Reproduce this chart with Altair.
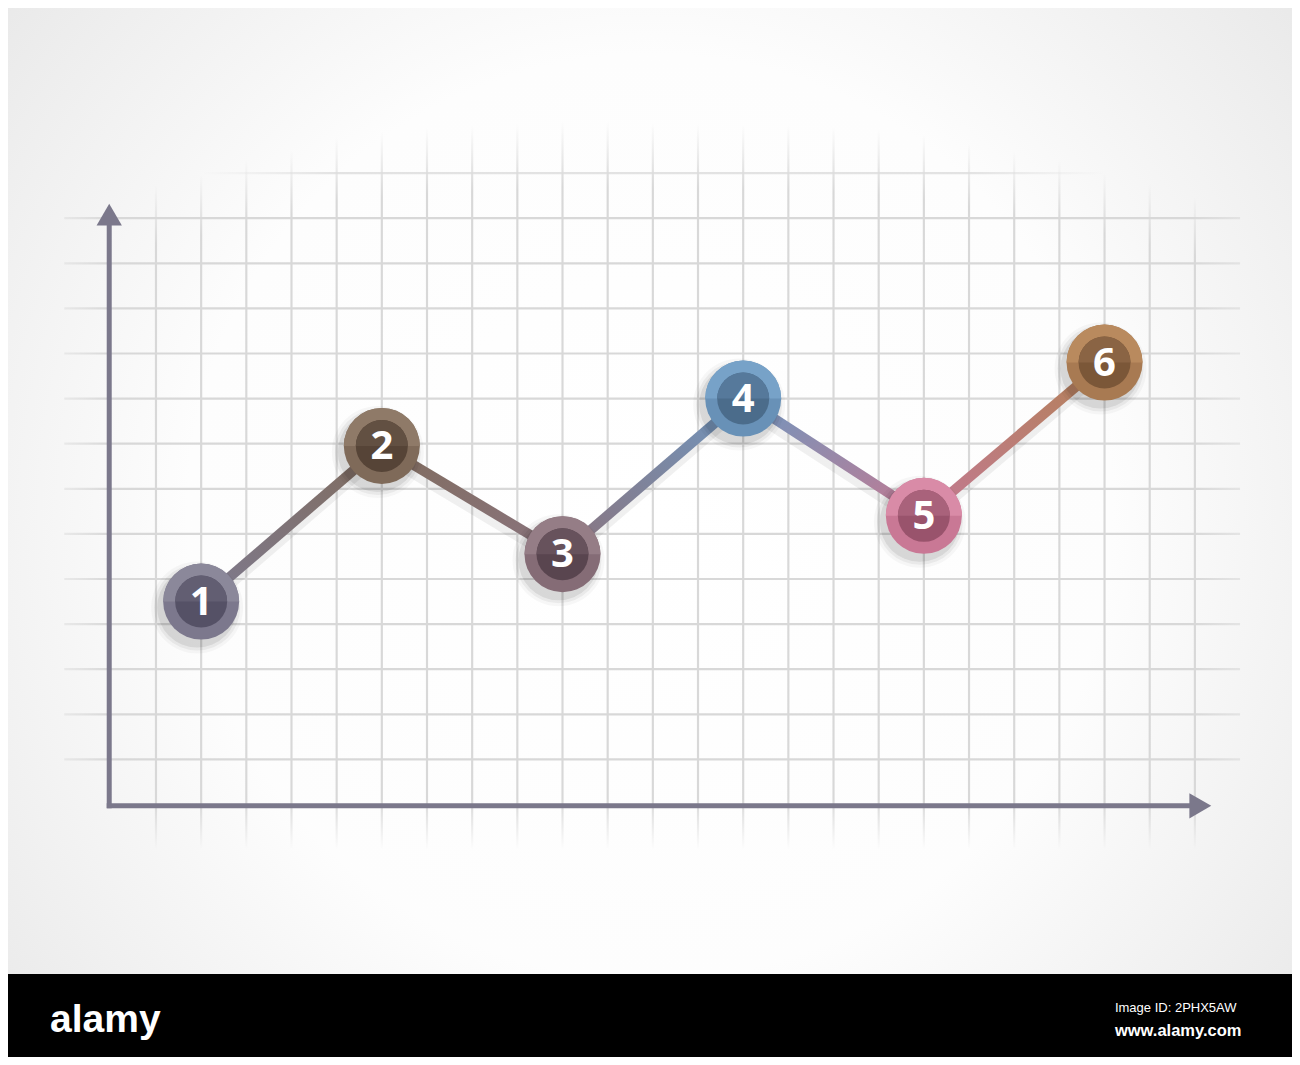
import altair as alt
import pandas as pd

# ---------------- data ----------------
steps = ["1", "2", "3", "4", "5", "6"]
step_x = [2, 6, 10, 14, 18, 22]
step_y = [4.5, 7.95, 5.55, 9.0, 6.4, 9.8]
ring_top = ["#8b889a", "#8f7a68", "#957d86", "#77a2c8", "#d98ba7", "#b98a5e"]
ring_bottom = ["#7c788d", "#7f6a59", "#856c76", "#6891b7", "#c97895", "#a87a52"]
core_top = ["#625e72", "#625042", "#67525c", "#56799b", "#a9627b", "#8a6444"]
core_bottom = ["#555166", "#564437", "#59454f", "#4b6c8b", "#99536c", "#7b5738"]
line_color = ["#7e7a8e", "#806c5e", "#8a747e", "#7196be", "#c27a92", "#b48158"]

grid_cols = list(range(1, 25))
grid_col_top = [13.74, 13.96, 14.29, 14.51, 14.80, 14.91, 15.0, 15.05, 15.09, 15.14,
                15.14, 15.11, 15.09, 15.07, 15.07, 15.02, 14.96, 14.85, 14.67, 14.47,
                14.29, 14.0, 13.77, 13.46]
grid_rows = list(range(1, 14))
top_row = [14]

footer_texts = ["Image ID: 2PHX5AW", "www.alamy.com"]

# view extents in data units
X_DOMAIN = [-2.276, 26.150]
Y_DOMAIN = [-5.599, 17.661]
FOOTER_TOP = -3.76
W, H = 1284, 1049

AXIS_COLOR = "#7b788b"

XS = alt.Scale(domain=X_DOMAIN, nice=False, zero=False)
YS = alt.Scale(domain=Y_DOMAIN, nice=False, zero=False)


def X(f):
    return alt.X(f, type="quantitative", scale=XS, axis=None)


def Y(f):
    return alt.Y(f, type="quantitative", scale=YS, axis=None)


pts = pd.DataFrame({
    "step": steps, "x": step_x, "y": step_y,
    "ring_top": ring_top, "ring_bottom": ring_bottom,
    "core_top": core_top, "core_bottom": core_bottom,
})

# ---------------- background ----------------
bg_df = pd.DataFrame({"xa": [X_DOMAIN[0]], "xb": [X_DOMAIN[1]],
                      "ya": [FOOTER_TOP], "yb": [Y_DOMAIN[1]]})
bg = alt.Chart(bg_df).mark_rect(
    fill=alt.Gradient(gradient="radial", x1=0.5, y1=0.52, r1=0, x2=0.5, y2=0.52, r2=0.72,
                      stops=[{"offset": 0, "color": "#ffffff"},
                             {"offset": 0.5, "color": "#fdfdfd"},
                             {"offset": 1, "color": "#e4e4e4"}])
).encode(x=X("xa"), x2="xb", y=Y("ya"), y2="yb")

foot_df = pd.DataFrame({"xa": [X_DOMAIN[0]], "xb": [X_DOMAIN[1]],
                        "ya": [Y_DOMAIN[0]], "yb": [FOOTER_TOP]})
footer = alt.Chart(foot_df).mark_rect(color="#000000").encode(
    x=X("xa"), x2="xb", y=Y("ya"), y2="yb")

NARROW = "'Liberation Sans Narrow', 'Liberation Sans', sans-serif"
logo = alt.Chart(pd.DataFrame({"t": ["alamy"], "x": [-1.346], "y": [-5.05]})).mark_text(
    align="left", baseline="alphabetic", font=NARROW, fontWeight="bold",
    fontSize=39, color="#ffffff"
).encode(x=X("x"), y=Y("y"), text="t:N")

foot_txt1 = alt.Chart(pd.DataFrame({"t": [footer_texts[0]], "x": [22.23], "y": [-4.60]})).mark_text(
    align="left", baseline="alphabetic", font=NARROW, fontSize=13, color="#ffffff"
).encode(x=X("x"), y=Y("y"), text="t:N")
foot_txt2 = alt.Chart(pd.DataFrame({"t": [footer_texts[1]], "x": [22.23], "y": [-5.13]})).mark_text(
    align="left", baseline="alphabetic", font=NARROW, fontSize=16.5, fontWeight="bold",
    color="#ffffff"
).encode(x=X("x"), y=Y("y"), text="t:N")

# ---------------- grid ----------------
vcol = pd.DataFrame({"k": grid_cols, "top": grid_col_top})
vgrid = alt.Chart(vcol).transform_calculate(
    xa="datum.k - 0.024", xb="datum.k + 0.024", bot="-1.0"
).mark_rect(
    fill=alt.Gradient(gradient="linear", x1=0, y1=0, x2=0, y2=1,
                      stops=[{"offset": 0, "color": "rgba(216,216,216,0)"},
                             {"offset": 0.09, "color": "rgba(216,216,216,1)"},
                             {"offset": 0.93, "color": "rgba(216,216,216,1)"},
                             {"offset": 1, "color": "rgba(216,216,216,0)"}])
).encode(x=X("xa:Q"), x2="xb:Q", y=Y("bot:Q"), y2="top:Q")

hrow = pd.DataFrame({"k": grid_rows})
hgrid = alt.Chart(hrow).transform_calculate(
    ya="datum.k - 0.024", yb="datum.k + 0.024", xa="-1.03", xb="25.0"
).mark_rect(
    fill=alt.Gradient(gradient="linear", x1=0, y1=0, x2=1, y2=0,
                      stops=[{"offset": 0, "color": "rgba(216,216,216,0.45)"},
                             {"offset": 0.04, "color": "rgba(216,216,216,1)"},
                             {"offset": 0.96, "color": "rgba(216,216,216,1)"},
                             {"offset": 1, "color": "rgba(216,216,216,0.6)"}])
).encode(x=X("xa:Q"), x2="xb:Q", y=Y("ya:Q"), y2="yb:Q")

trow = pd.DataFrame({"k": top_row})
tgrid = alt.Chart(trow).transform_calculate(
    ya="datum.k - 0.024", yb="datum.k + 0.024", xa="2.0", xb="22.0"
).mark_rect(
    fill=alt.Gradient(gradient="linear", x1=0, y1=0, x2=1, y2=0,
                      stops=[{"offset": 0, "color": "rgba(220,220,220,0)"},
                             {"offset": 0.15, "color": "rgba(220,220,220,0.8)"},
                             {"offset": 0.85, "color": "rgba(220,220,220,0.8)"},
                             {"offset": 1, "color": "rgba(220,220,220,0)"}])
).encode(x=X("xa:Q"), x2="xb:Q", y=Y("ya:Q"), y2="yb:Q")

# ---------------- axes ----------------
axes_df = pd.DataFrame({
    "xa": [-0.035, -0.09], "xb": [-0.035, 23.9],
    "ya": [-0.085, -0.03], "yb": [12.85, -0.03]})
axes = alt.Chart(axes_df).mark_rule(color=AXIS_COLOR, strokeWidth=5, strokeCap="butt").encode(
    x=X("xa"), x2="xb", y=Y("ya"), y2="yb")

arrow_df = pd.DataFrame({"x": [-0.035, 24.12], "y": [13.08, -0.03],
                         "shape": ["triangle-up", "triangle-right"]})
arrows = alt.Chart(arrow_df).mark_point(filled=True, size=640, opacity=1,
                                        color=AXIS_COLOR, strokeWidth=0).encode(
    x=X("x"), y=Y("y"), shape=alt.Shape("shape:N", scale=None, legend=None))

# ---------------- lines ----------------
line_shadow = alt.Chart(pts).mark_line(
    color="#000000", opacity=0.06, strokeWidth=14, xOffset=-1, yOffset=6
).encode(x=X("x"), y=Y("y"), order="x:Q")

seg_layers = []
for i in range(len(steps) - 1):
    seg = pts.iloc[i:i + 2][["x", "y"]]
    rising = step_y[i + 1] > step_y[i]
    grad = alt.Gradient(gradient="linear", x1=0, x2=1,
                        y1=1 if rising else 0, y2=0 if rising else 1,
                        stops=[{"offset": 0, "color": line_color[i]},
                               {"offset": 1, "color": line_color[i + 1]}])
    seg_layers.append(
        alt.Chart(seg).mark_line(stroke=grad, strokeWidth=10, strokeCap="butt").encode(
            x=X("x"), y=Y("y"), order="x:Q"))

# ---------------- circles ----------------
shadows = []
for sz, op in [(80, 0.08), (86, 0.05), (92, 0.03)]:
    shadows.append(alt.Chart(pts).mark_circle(
        size=sz * sz, color="#000000", opacity=op, xOffset=-4, yOffset=6
    ).encode(x=X("x"), y=Y("y")))

ring_full = alt.Chart(pts).mark_circle(size=76 * 76, opacity=1).encode(
    x=X("x"), y=Y("y"), color=alt.Color("ring_bottom:N", scale=None))
ring_half = alt.Chart(pts).mark_arc(radius=38, theta=4.712389, theta2=7.853982).encode(
    x=X("x"), y=Y("y"), color=alt.Color("ring_top:N", scale=None))
core_full = alt.Chart(pts).mark_circle(size=52 * 52, opacity=1).encode(
    x=X("x"), y=Y("y"), color=alt.Color("core_bottom:N", scale=None))
core_half = alt.Chart(pts).mark_arc(radius=26, theta=4.712389, theta2=7.853982).encode(
    x=X("x"), y=Y("y"), color=alt.Color("core_top:N", scale=None))

labels = alt.Chart(pts).mark_text(
    font="Open Sans", fontWeight="bold", fontSize=40, color="#ffffff",
    align="center", baseline="middle", dy=1
).encode(x=X("x"), y=Y("y"), text="step:N")

chart = alt.layer(
    bg, footer, logo, foot_txt1, foot_txt2, vgrid, hgrid, tgrid, axes, arrows,
    line_shadow, *seg_layers, *shadows, ring_full, ring_half, core_full, core_half, labels
).properties(
    width=W, height=H, padding=0, autosize="none", background="#ffffff"
).configure_view(stroke=None)

chart.save("out.html", embed_options={"renderer": "svg", "actions": False})
